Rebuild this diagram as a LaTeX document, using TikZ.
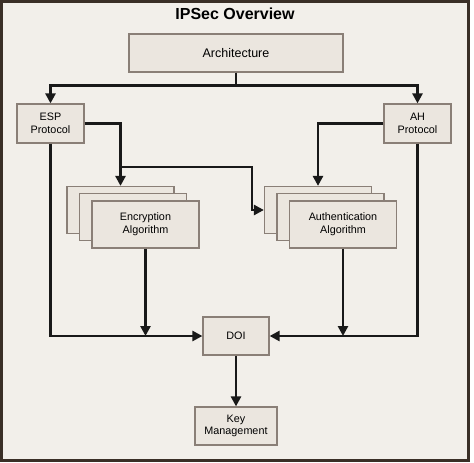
\documentclass[tikz,border=0pt]{standalone}
\usepackage{fontspec}
\setmainfont{Liberation Sans}
\usetikzlibrary{positioning, arrows.meta}
\definecolor{paper}{HTML}{F2EFEA}
\definecolor{boxfill}{HTML}{EBE6DF}
\definecolor{boxline}{HTML}{8A7F77}
\definecolor{framebrown}{HTML}{3A2F27}
\tikzset{
  box/.style={draw=boxline, fill=boxfill, line width=1.2pt, align=center, inner sep=0pt,
    font=\fontsize{10.8}{12.7}\selectfont},
  flow/.style={line width=2.8pt, draw=black!90}
}

\begin{document}
\begin{tikzpicture}[x=1pt, y=1pt, on grid, >={Triangle[length=10pt,width=10pt]}]
    \fill[white] (0,0) rectangle (474,-463);
    \useasboundingbox (0,0) rectangle (474,-463);
    \draw[framebrown, fill=paper, line width=3pt] (1.5,-1.5) rectangle (468.5,-460.5);

    \node[font=\bfseries\fontsize{16}{18}\selectfont] (title) at (235,-14) {IPSec Overview};
    \node[box, minimum width=214pt, minimum height=38pt, font=\fontsize{12.5}{14}\selectfont]
        (arch) at (236,-53) {Architecture};
    \node[box, minimum width=67pt, minimum height=39pt] (esp) at (50.5,-123.5) {ESP\\Protocol};
    \node[box, minimum width=67pt, minimum height=39pt] (ah) at (417.5,-123.5) {AH\\Protocol};

    % stacked algorithm boxes
    \node[box, minimum width=107pt, minimum height=47pt] (encback) at (120.5,-210) {};
    \node[box, minimum width=107pt, minimum height=47pt] (encmid) [below right=7pt and 12.5pt of encback] {};
    \node[box, minimum width=107pt, minimum height=47pt] (enc) [below right=7.5pt and 12.5pt of encmid] {Encryption\\Algorithm};
    \node[box, minimum width=107pt, minimum height=47pt] (authback) at (318,-210) {};
    \node[box, minimum width=107pt, minimum height=47pt] (authmid) [below right=7pt and 12.5pt of authback] {};
    \node[box, minimum width=107pt, minimum height=47pt] (auth) [below right=7.5pt and 12.5pt of authmid] {Authentication\\Algorithm};

    \node[box, minimum width=66pt, minimum height=38pt] (doi) at (236,-336) {DOI};
    \node[box, minimum width=82pt, minimum height=38pt] (key) [below=90pt of doi] {Key\\Management};

    \coordinate (split) at (encback.north |- 0,-167);
    \coordinate (bend) at (252,-167);

    \draw[flow, ->] (arch.south) -- ++(0,-13) -| (esp.north);
    \draw[flow, ->] (arch.south) -- ++(0,-13) -| (ah.north);
    \draw[flow, ->] (esp.east) -| (encback.north);
    \draw[flow, ->] (split) -- (bend) |- (authback.west);
    \draw[flow, ->] (ah.west) -| (authback.north);
    \draw[flow, ->] (esp.south) |- (doi.west);
    \draw[flow, ->] (ah.south) |- (doi.east);
    \draw[flow, ->] (enc.south) -- (enc.south |- doi.west);
    \draw[flow, ->] (auth.south) -- (auth.south |- doi.east);
    \draw[flow, ->] (doi.south) -- (key.north);
\end{tikzpicture}
\end{document}
